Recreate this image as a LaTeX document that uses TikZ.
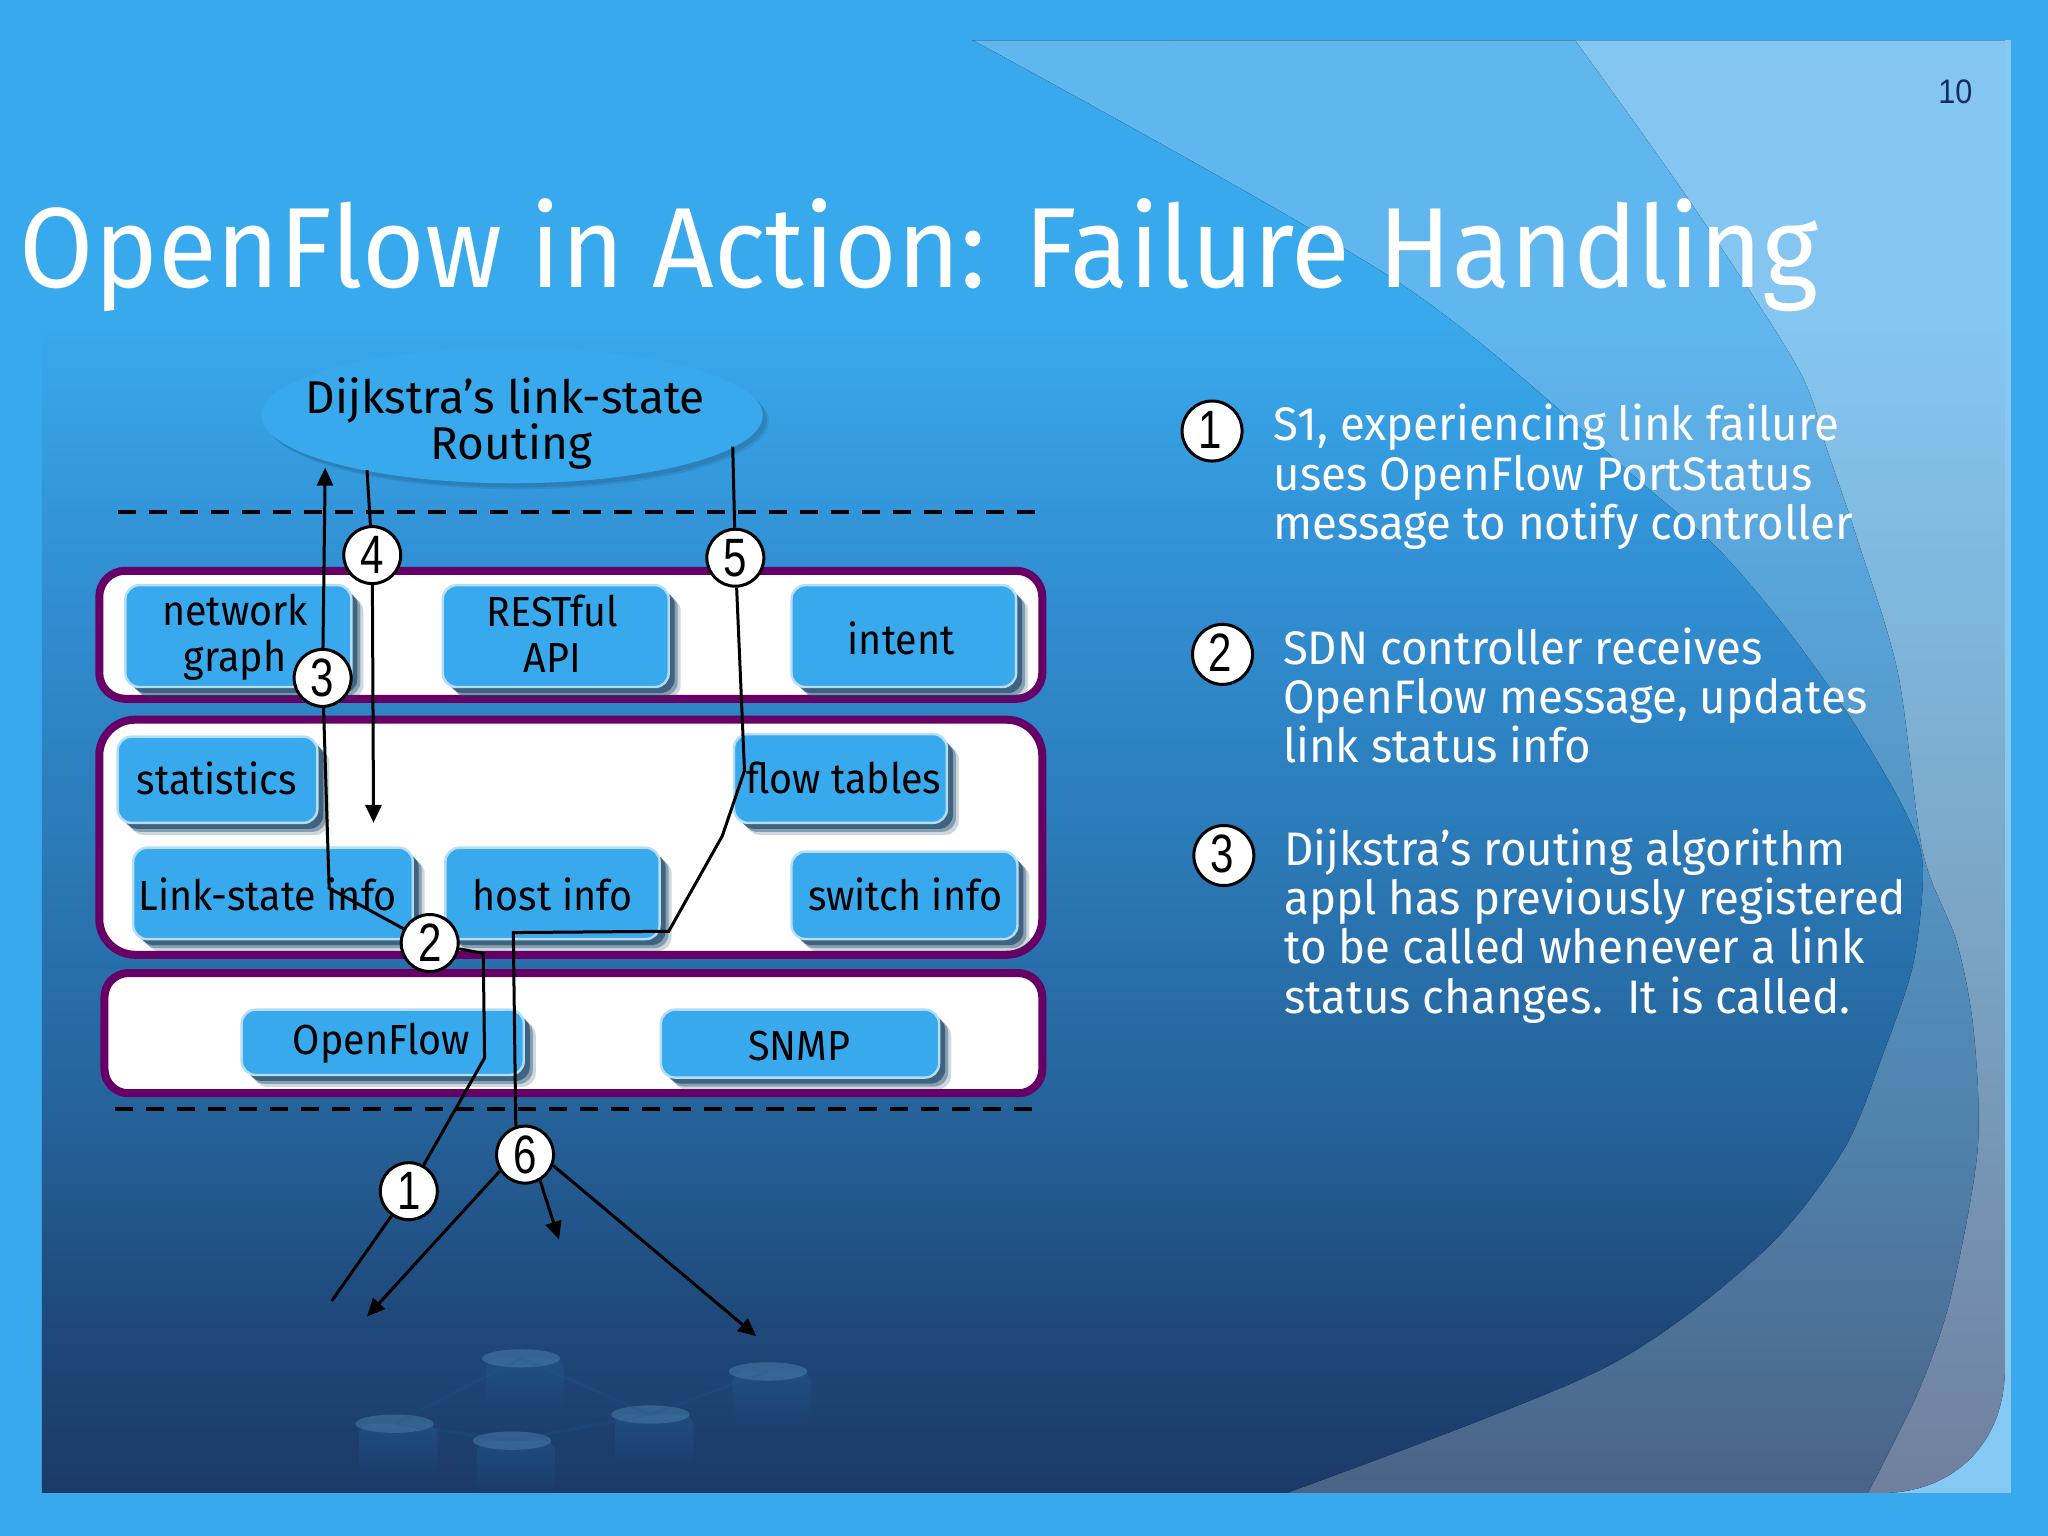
\documentclass[tikz,border=0pt]{standalone}
\usepackage{fontspec}
\setmainfont{Fira Sans}
\newfontfamily\titlef{Fira Sans}[FakeStretch=0.943]
\newfontfamily\sidef{Fira Sans}[FakeStretch=0.97]
\newfontfamily\boxf{Fira Sans}[FakeStretch=0.94]
\newfontfamily\ellf{Fira Sans}[FakeStretch=1.0]
\newfontfamily\numf{Liberation Sans}[FakeStretch=0.78]
\newfontfamily\pagef{Liberation Sans}[FakeStretch=0.9]
\usetikzlibrary{arrows.meta,shadows,shapes.geometric,fadings}
\definecolor{skyb}{HTML}{38A9EC}
\definecolor{lightb}{HTML}{85C8F3}
\definecolor{purp}{HTML}{660066}
\definecolor{navyn}{HTML}{0F2F60}
\definecolor{boxedge}{HTML}{B5DEF6}
\definecolor{shad}{HTML}{1E4A6C}
\definecolor{cylb}{HTML}{20588E}
\definecolor{cylt}{HTML}{4A7CA8}
\pgfdeclareverticalshading{darkl}{100bp}{
 rgb(0bp)=(0.110,0.227,0.408);rgb(25bp)=(0.110,0.227,0.408);rgb(31.4bp)=(0.122,0.290,0.486);rgb(38.2bp)=(0.145,0.388,0.604);rgb(49.4bp)=(0.173,0.498,0.745);rgb(58.4bp)=(0.200,0.580,0.847);rgb(65.2bp)=(0.220,0.663,0.925);rgb(100bp)=(0.220,0.663,0.925)}
\pgfdeclareverticalshading{midl}{100bp}{
 rgb(0bp)=(0.290,0.388,0.525);rgb(25bp)=(0.290,0.388,0.525);rgb(38.2bp)=(0.314,0.518,0.686);rgb(49.4bp)=(0.333,0.596,0.784);rgb(58.4bp)=(0.353,0.659,0.871);rgb(65.2bp)=(0.376,0.714,0.933);rgb(100bp)=(0.376,0.722,0.941)}
\pgfdeclareverticalshading{lightl}{100bp}{
 rgb(0bp)=(0.435,0.502,0.620);rgb(25bp)=(0.435,0.502,0.620);rgb(38.2bp)=(0.467,0.600,0.722);rgb(49.4bp)=(0.490,0.678,0.812);rgb(58.4bp)=(0.502,0.733,0.886);rgb(65.2bp)=(0.518,0.776,0.945);rgb(100bp)=(0.522,0.784,0.953)}
\tikzset{
 panel/.style={draw=purp,line width=4pt,fill=white},
 bluebox/.style={rectangle,rounded corners=7pt,fill=skyb,draw=boxedge,line width=1.2pt,inner sep=0pt,align=center,text=black,
   font=\boxf\fontsize{21}{23.2}\selectfont,
   drop shadow={shadow xshift=6pt,shadow yshift=-6pt,fill=shad,opacity=.22},
   drop shadow={shadow xshift=4.5pt,shadow yshift=-4.5pt,fill=shad,opacity=.4},
   drop shadow={shadow xshift=3pt,shadow yshift=-3pt,fill=shad,opacity=.7}},
 num/.style={circle,draw=black,line width=1.5pt,fill=white,minimum size=28.5pt,inner sep=0pt,text=black,font=\numf\fontsize{27}{27}\selectfont},
 wire/.style={draw=black,line width=1.5pt},
 tip/.style={-{Triangle[length=9pt,width=8pt]}},
 sep/.style={draw=black,line width=2.4pt,dash pattern=on 9pt off 6.5pt},
 side/.style={anchor=north west,align=left,inner sep=0pt,text=white,font=\sidef\fontsize{23.5}{24.7}\selectfont},
 cyltop/.style={fill=cylt,opacity=.55},
 cylbody/.style={fill=cylb,opacity=.55,path fading=south},
 faint/.style={draw=cylb,line width=1.5pt,opacity=.25},
}
\newcommand{\bbox}[8]{\node[bluebox,minimum width={(#4-#2)*0.653pt},minimum height={(#5-#3)*0.653pt}] (#1) at ({(#2+#4)/2},{(#3+#5)/2}) {};
 \node[inner sep=0pt,align=center,text=black,font=\boxf\fontsize{21}{23.2}\selectfont] (#1t) at (#7,#8) {#6};}
\newcommand{\cyl}[3]{\coordinate (#1) at (#2,#3);
 \fill[cylbody,rounded corners=6pt] (#2-27,#3) rectangle (#2+33,#3+42);
 \fill[cyltop] (#2,#3) ellipse [x radius=30,y radius=7];}
\begin{document}
\begin{tikzpicture}[x=0.653pt,y=-0.653pt]
\useasboundingbox (0,0) rectangle (1568,1176);
\fill[skyb] (0,0) rectangle (1568,1176);
\fill[lightb] (900,31) rectangle (1540,1143);
\begin{scope}
 \clip (900,31) -- (1535,31) -- (1535,1047) .. controls (1535,1110) and (1490,1143) .. (1442,1143) -- (900,1143) -- cycle;
 \fill[shading=lightl] (32,31) rectangle (1540,1143);
\end{scope}
\begin{scope}
 \clip (700,31) -- plot[smooth,tension=.5] coordinates {(1206,31) (1293,153) (1376,281) (1399,345) (1422,413) (1453,515) (1472,652) (1498,721) (1511,789) (1514,881) (1493,995) (1468,1067) (1430,1143)} -- (700,1143) -- cycle;
 \fill[shading=midl] (32,31) rectangle (1540,1143);
\end{scope}
\begin{scope}
 \clip (32,31) -- plot[smooth,tension=.5] coordinates {(745,31) (1072,217) (1263,375) (1315,420) (1365,478) (1417,550) (1457,618) (1472,662) (1465,737) (1442,806) (1411,881) (1348,960) (1225,1049) (985,1143)} -- (32,1143) -- cycle;
 \fill[shading=darkl] (32,31) rectangle (1540,1143);
\end{scope}
\fill[skyb] (28,27) rectangle (744,34);

% faint network
\cyl{ca}{399}{1040}\cyl{cb}{588}{1050}\cyl{cc}{498}{1083}\cyl{cd}{302}{1090}\cyl{ce}{392}{1103}
\draw[faint] (ca) -- (cd) (ca) -- (cc) (cd) -- (ce) (ce) -- (cc) (cc) -- (cb);

% title and page number
\node[anchor=base west,inner sep=0pt,text=white,font=\titlef\fontsize{57}{60}\selectfont] (title) at (15,220) {OpenFlow in Action: Failure Handling};
\node[text=navyn,inner sep=0pt,font=\pagef\fontsize{17}{17}\selectfont] (page) at (1497,70) {10};

% separators
\coordinate (s1a) at (90,392); \coordinate (s1b) at (793,392);
\coordinate (s2a) at (88,849); \coordinate (s2b) at (790,849);
\draw[sep] (s1a) -- (s1b);
\draw[sep] (s2a) -- (s2b);

% ellipse
\node[ellipse,fill=skyb,inner sep=0pt,minimum width={384*0.653pt},minimum height={104*0.653pt},
  drop shadow={shadow xshift=3pt,shadow yshift=-3pt,fill=shad,opacity=.15},
  drop shadow={shadow xshift=2pt,shadow yshift=-2pt,fill=shad,opacity=.2}] (algo) at (392,318) {};
\node[inner sep=0pt,align=center,text=black,font=\ellf\fontsize{23}{23}\selectfont] (algot) at (387,324) {Dijkstra’s link-state\\\hspace*{6pt}Routing};

% layer panels
\draw[panel,rounded corners=13pt] (76,437) rectangle (798,535);
\draw[panel,rounded corners=18pt] (76,551) rectangle (798,731);
\draw[panel,rounded corners=12pt] (80,745) rectangle (798,837);

% boxes
\bbox{net}{96}{448}{269}{526}{network\\graph}{180}{488}
\bbox{rest}{339}{448}{512}{526}{RESTful\\API}{423}{485}
\bbox{intent}{606}{448}{778}{526}{intent}{690}{489}
\bbox{stats}{90}{564}{243}{630}{statistics}{166}{596}
\bbox{flow}{562}{562}{725}{630}{flow tables}{646}{596}
\bbox{link}{102}{649}{316}{719}{Link-state info}{205}{685}
\bbox{host}{341}{649}{505}{719}{host info}{423}{685}
\bbox{switch}{606}{652}{779}{719}{switch info}{693}{685}
\bbox{of}{185}{773}{401}{823}{OpenFlow}{292}{799}
\bbox{snmp}{506}{773}{719}{825}{SNMP}{612}{801}

% numbered circles
\node[num] (n1) at (313,912) {1};
\node[num] (n2) at (329,722) {2};
\node[num] (n3) at (247,519) {3};
\node[num] (n4) at (285,425) {4};
\node[num] (n5) at (563,427) {5};
\node[num] (n6) at (402,884) {6};

% bends and free ends
\coordinate (b3) at (252,680);
\coordinate (t3) at (249,358);
\coordinate (b1a) at (370,730);
\coordinate (b1b) at (371,810);
\coordinate (e1) at (254,996);
\coordinate (s4) at (281,360);
\coordinate (t4) at (286,630);
\coordinate (s5) at (561,342);
\coordinate (b5a) at (570,590);
\coordinate (b5b) at (553,640);
\coordinate (b5c) at (512,713);
\coordinate (b5d) at (393,714);
\coordinate (t6a) at (281,1008);
\coordinate (t6b) at (428,949);
\coordinate (t6c) at (579,1023);

% connectors
\draw[wire] (n1) -- (e1);
\draw[wire] (n2) -- (b1a) -- (b1b) -- (n1);
\draw[wire] (n2) -- (b3) -- (n3);
\draw[wire,tip] (n3) -- (t3);
\draw[wire] (s4) -- (n4);
\draw[wire,tip] (n4) -- (t4);
\draw[wire] (s5) -- (n5);
\draw[wire] (n5) -- (b5a) -- (b5b) -- (b5c) -- (b5d) -- (n6.108);
\draw[wire,tip] (n6.213) -- (t6a);
\draw[wire,tip] (n6.-60) -- (t6b);
\draw[wire,tip] (n6.-21) -- (t6c);

% side list
\node[num,minimum size=30pt] (k1) at (928,330) {\raisebox{1.5pt}{1}\kern2pt};
\node[num,minimum size=30pt] (k2) at (936,501) {\raisebox{1.5pt}{2}\kern2pt};
\node[num,minimum size=30pt] (k3) at (937,655) {\raisebox{1.5pt}{3}\kern2pt};
\node[side] (t1) at (975,309) {S1, experiencing link failure\\uses OpenFlow PortStatus\\message to notify controller};
\node[side] (t2) at (982,480) {SDN controller receives\\OpenFlow message, updates\\link status info};
\node[side] (t3b) at (983,634) {Dijkstra’s routing algorithm\\appl has previously registered\\to be called whenever a link\\status changes.\ \ It is called.};
\end{tikzpicture}
\end{document}
